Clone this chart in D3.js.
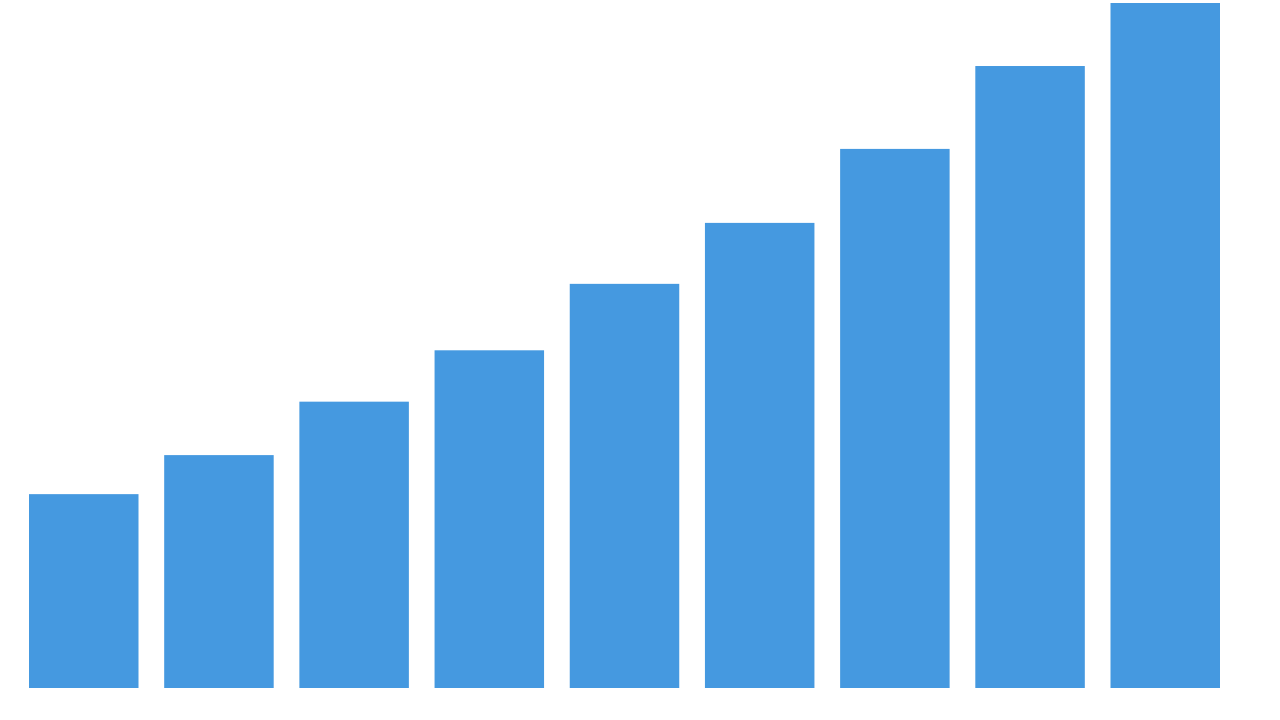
<!DOCTYPE html>
<html>
<head>
<meta charset="utf-8">
<script src="https://cdn.jsdelivr.net/npm/d3@7"></script>
<style>
  html, body { margin: 0; padding: 0; background: #fff; overflow: hidden; }
</style>
</head>
<body>
<div id="chart"></div>
<script>
// bar categories and values (no axis labels shown)
var categories = ["1", "2", "3", "4", "5", "6", "7", "8", "9"];
var values = [28.3, 34.0, 41.8, 49.3, 59.0, 67.9, 78.7, 90.8, 100];

var width = 1280, height = 720;

var svg = d3.select("#chart")
  .append("svg")
  .attr("width", width)
  .attr("height", height);

var x = d3.scaleBand()
  .domain(categories)
  .range([29, 1220])
  .paddingInner(0.19)
  .paddingOuter(0);

var y = d3.scaleLinear()
  .domain([0, 100])
  .range([688, 3]);

svg.append("g")
  .selectAll("rect")
  .data(values)
  .join("rect")
  .attr("x", (d, i) => x(categories[i]))
  .attr("y", (d) => y(d))
  .attr("width", x.bandwidth())
  .attr("height", (d) => y(0) - y(d))
  .attr("fill", "#4599e0");
</script>
</body>
</html>
